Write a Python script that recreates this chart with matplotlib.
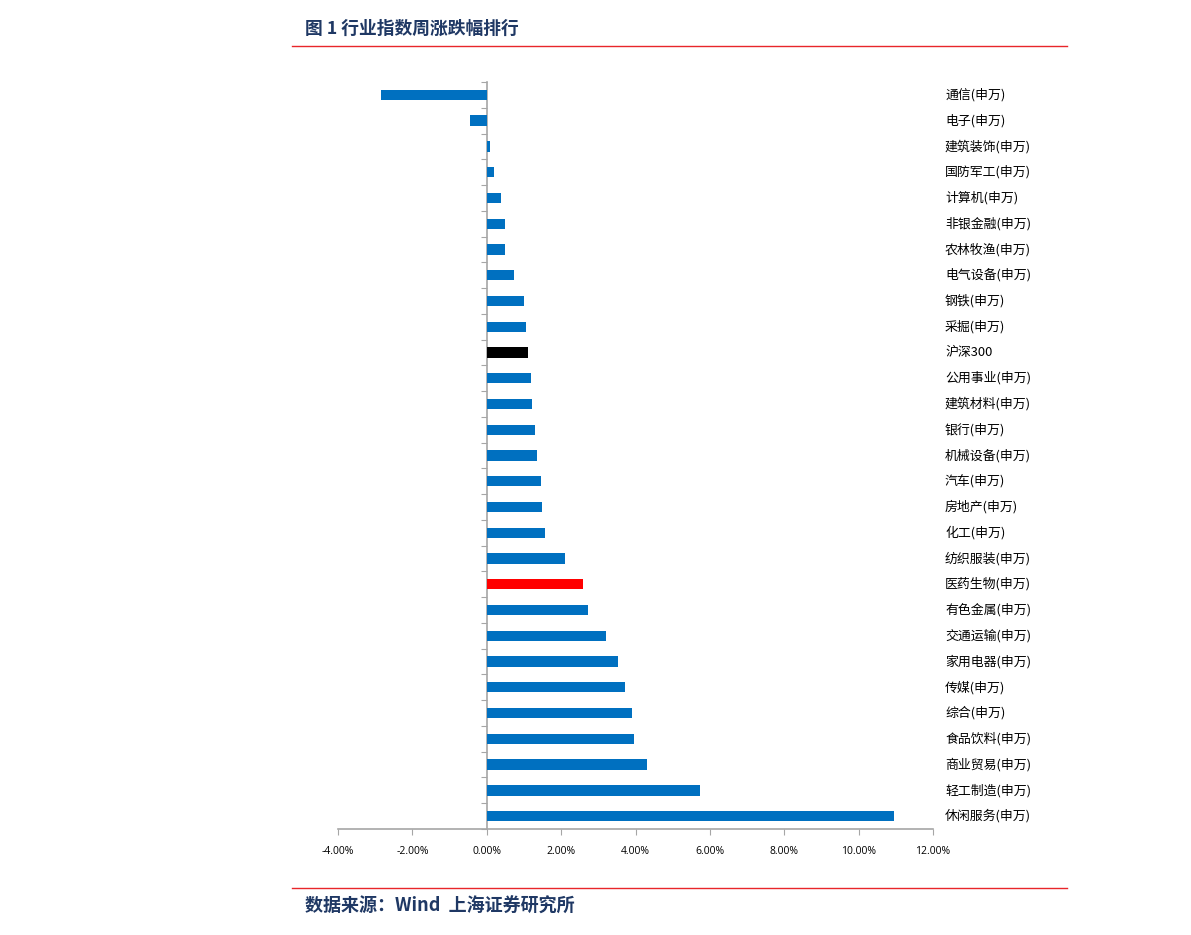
import matplotlib
matplotlib.use("Agg")
import matplotlib.pyplot as plt
import matplotlib.transforms as mtransforms
from matplotlib.ticker import FixedLocator, PercentFormatter

plt.rcParams['font.family'] = ['Noto Sans CJK SC', 'DejaVu Sans']
plt.rcParams['axes.unicode_minus'] = False

categories = ['通信(申万)', '电子(申万)', '建筑装饰(申万)', '国防军工(申万)', '计算机(申万)',
              '非银金融(申万)', '农林牧渔(申万)', '电气设备(申万)', '钢铁(申万)', '采掘(申万)',
              '沪深300', '公用事业(申万)', '建筑材料(申万)', '银行(申万)', '机械设备(申万)',
              '汽车(申万)', '房地产(申万)', '化工(申万)', '纺织服装(申万)', '医药生物(申万)',
              '有色金属(申万)', '交通运输(申万)', '家用电器(申万)', '传媒(申万)', '综合(申万)',
              '食品饮料(申万)', '商业贸易(申万)', '轻工制造(申万)', '休闲服务(申万)']
values = [-2.85, -0.46, 0.08, 0.20, 0.37, 0.48, 0.50, 0.72, 1.00, 1.05,
          1.12, 1.18, 1.21, 1.29, 1.34, 1.45, 1.48, 1.56, 2.10, 2.60,
          2.73, 3.22, 3.54, 3.72, 3.91, 3.97, 4.32, 5.74, 10.94]
highlight = {'沪深300': '#000000', '医药生物(申万)': '#FF0000'}
x_ticks = [-4, -2, 0, 2, 4, 6, 8, 10, 12]

fig = plt.figure(figsize=(11.91, 9.35), dpi=100)
W, H = 1191, 935
ax = fig.add_axes([338 / W, 1 - 829 / H, (933 - 338) / W, (829 - 82) / H])

n = len(categories)
ypos = list(range(n))
colors = [highlight.get(c, '#0070C0') for c in categories]
ax.barh(ypos, values, height=0.4, color=colors, edgecolor='none', zorder=3)

ax.set_xlim(-4, 12)
ax.set_ylim(n - 0.5, -0.5)

for s in ['top', 'right']:
    ax.spines[s].set_visible(False)
ax.spines['left'].set_position(('data', 0))
ax.spines['left'].set_color('#A6A6A6')
ax.spines['left'].set_linewidth(1.2)
ax.spines['bottom'].set_color('#A6A6A6')
ax.spines['bottom'].set_linewidth(1.2)

ax.xaxis.set_major_locator(FixedLocator(x_ticks))
ax.xaxis.set_major_formatter(PercentFormatter(decimals=2))
ax.tick_params(axis='x', direction='out', length=4, color='#A6A6A6', labelsize=7.5, pad=8)
for lbl in ax.get_xticklabels():
    lbl.set_family(['Open Sans', 'DejaVu Sans'])

ax.set_yticks([i - 0.5 for i in range(n + 1)])
ax.set_yticklabels([])
ax.tick_params(axis='y', direction='out', length=4, color='#A6A6A6')

trans = mtransforms.blended_transform_factory(fig.transFigure, ax.transData)
for i, c in enumerate(categories):
    ax.text(945 / W, i, c, transform=trans, ha='left', va='center', fontsize=9.3,
            color='#000000', clip_on=False)

# title and separator lines
fig.text(305 / W, 1 - 29 / H, '图 1 行业指数周涨跌幅排行', fontsize=12.8, fontweight='bold',
         color='#1F3864', ha='left', va='center')
fig.add_artist(plt.Line2D([292 / W, 1067 / W], [1 - 46 / H, 1 - 46 / H], color='#E8262A', lw=1.0))
fig.add_artist(plt.Line2D([292 / W, 1067 / W], [1 - 888 / H, 1 - 888 / H], color='#E8262A', lw=1.0))
fig.text(305 / W, 1 - 906 / H, '数据来源：Wind  上海证券研究所', fontsize=13, fontweight='bold',
         style='italic', color='#1F3864', ha='left', va='center')

fig.savefig('out.png', dpi=100)
